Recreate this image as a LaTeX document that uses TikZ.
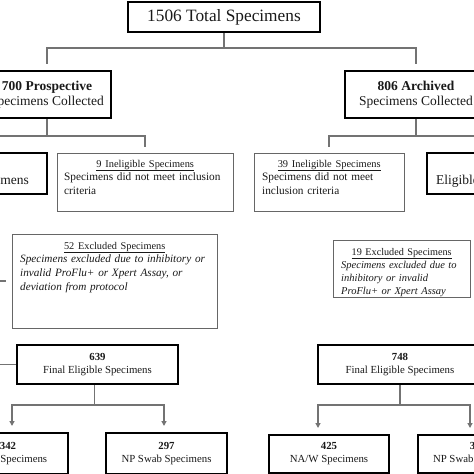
\documentclass[tikz,border=0pt]{standalone}
\usepackage{fontspec}
\setmainfont{Liberation Serif}
\usetikzlibrary{arrows.meta}
\newcommand{\fsz}[2]{\fontsize{#1}{#2}\selectfont}
\begin{document}
\begin{tikzpicture}[x=1pt,y=-1pt,
  mainbox/.style={draw=black, line width=2pt, inner sep=0pt, align=center, text=black!90},
  thinbox/.style={draw=black!60, line width=0.9pt, inner sep=0pt},
  boxtext/.style={inner sep=0pt, anchor=base west, align=left, text=black!90},
  conn/.style={draw=black!55, line width=1.3pt},
  arr/.style={conn, -{Triangle[length=5pt,width=5pt]}, shorten >=6pt},
  fA/.style={font=\fsz{17.3}{20}},
  fB/.style={font=\fsz{13.5}{15}},
  fC/.style={font=\fsz{10.8}{13}},
]
\useasboundingbox (0,0) rectangle (474,474);
\clip (0,0) rectangle (474,474);

% main boxes
\node[mainbox,fA,minimum width=192pt,minimum height=30pt] (top) at (224,17) {1506 Total Specimens};
\node[mainbox,fB,minimum width=128pt,minimum height=47pt] (pros) at (47,94.5) {\textbf{700 Prospective}\\Specimens Collected};
\node[mainbox,fB,minimum width=142pt,minimum height=47pt] (arch) at (416,94.5) {\textbf{806 Archived}\\Specimens Collected};
\node[mainbox,fB,minimum width=141pt,minimum height=41pt] (eligL) at (-23.5,173.5) {\textbf{691}\\Eligible Specimens};
\node[mainbox,fB,minimum width=123pt,minimum height=41pt] (eligR) at (488.5,173.5) {\textbf{767}\\Eligible Specimens};

% ineligible / excluded boxes
\node[thinbox,minimum width=176pt,minimum height=58pt] (inelig9) at (145,182) {};
\node[boxtext,text width=162pt,font=\fsz{11.3}{13.5}] (inelig9t) at (64,167)
  {\makebox[\linewidth]{\fsz{10.4}{13.5}\underline{9 Ineligible Specimens}}\\Specimens did not meet inclusion\\criteria};
\node[thinbox,minimum width=150pt,minimum height=58pt] (inelig39) at (329,182) {};
\node[boxtext,text width=134pt,font=\fsz{11.3}{13.5}] (inelig39t) at (262,167)
  {\makebox[\linewidth]{\fsz{10.4}{13.5}\underline{39 Ineligible Specimens}}\\Specimens did not meet\\inclusion criteria};
\node[thinbox,minimum width=205pt,minimum height=94pt] (excl52) at (114.5,281) {};
\node[boxtext,text width=195pt,font=\fsz{11.2}{13.7}] (excl52t) at (20,249)
  {\makebox[189pt]{\fsz{10.3}{13.7}\underline{52 Excluded Specimens}}\\\textit{Specimens excluded due to inhibitory or}\\\textit{invalid ProFlu+ or Xpert Assay, or}\\\textit{deviation from protocol}};
\node[thinbox,minimum width=137pt,minimum height=57pt] (excl19) at (401.5,268.5) {};
\node[boxtext,text width=121pt,font=\fsz{10.5}{13}] (excl19t) at (341,255)
  {\makebox[\linewidth]{\fsz{10.2}{13}\underline{19 Excluded Specimens}}\\\textit{Specimens excluded due to}\\\textit{inhibitory or invalid}\\\textit{ProFlu+ or Xpert Assay}};

% final boxes
\node[mainbox,fC,minimum width=161pt,minimum height=39pt] (final639) at (97.5,364.5) {\textbf{639}\\Final Eligible Specimens};
\node[mainbox,fC,minimum width=164pt,minimum height=39pt] (final748) at (400,364.5) {\textbf{748}\\Final Eligible Specimens};

% bottom boxes
\node[mainbox,fC,minimum width=120pt,minimum height=41pt] (na342) at (8,453.5) {\textbf{342}\\NA/W Specimens};
\node[mainbox,fC,minimum width=121pt,minimum height=41pt] (np297) at (166.5,453.5) {\textbf{297}\\NP Swab Specimens};
\node[mainbox,fC,minimum width=120pt,minimum height=38pt] (na425) at (329,454) {\textbf{425}\\NA/W Specimens};
\node[mainbox,fC,minimum width=120pt,minimum height=38pt] (np323) at (478,454) {\textbf{323}\\NP Swab Specimens};

% connectors
\draw[conn,shorten >=6pt] (top.south) -- ++(0,15) -| (pros.north);
\draw[conn,shorten >=6pt] (top.south) -- ++(0,15) -| (arch.north);

\draw[conn,shorten >=6pt] (pros.south) -- ++(0,17) -| (inelig9.north);
\draw[conn,shorten >=6pt] (pros.south) -- ++(0,17) -| (eligL.north);
\draw[conn,shorten >=6pt] (arch.south) -- ++(0,17) -| (inelig39.north);
\draw[conn,shorten >=6pt] (arch.south) -- ++(0,17) -| (eligR.north);

\draw[conn] (eligL.south) |- (final639.west);
\draw[conn,shorten >=6pt] (eligL.south |- excl52.west) -- (excl52.west);
\draw[conn] (eligR.south) |- (final748.east);
\draw[conn,shorten >=6pt] (eligR.south |- excl19.east) -- (excl19.east);

\draw[conn] ([xshift=-3pt]final639.south) -- ++(0,20) coordinate (b639);
\draw[arr] (b639) -| ([xshift=4pt]na342.north);
\draw[arr] (b639) -| ([xshift=-2.5pt]np297.north);
\draw[conn] (final748.south) -- ++(0,20) coordinate (b748);
\draw[arr] (b748) -| ([xshift=-11pt]na425.north);
\draw[arr] (b748) -| ([xshift=-8pt]np323.north);
\end{tikzpicture}
\end{document}
